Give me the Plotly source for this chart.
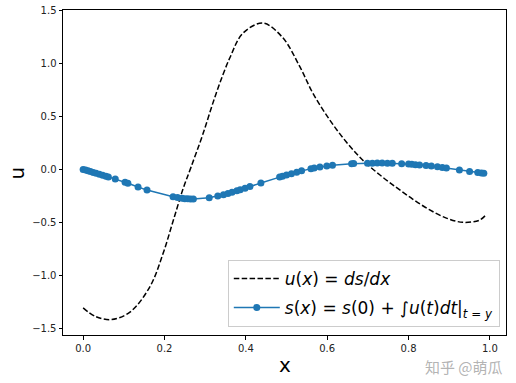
import plotly.graph_objects as go

# dashed curve u(x) = ds/dx
u_x = [0.000, 0.030, 0.069, 0.115, 0.164, 0.196, 0.221, 0.245, 0.265, 0.294, 0.327,
       0.361, 0.393, 0.442, 0.490, 0.533, 0.565, 0.606, 0.647, 0.687, 0.729, 0.770,
       0.810, 0.851, 0.893, 0.933, 0.974, 0.990]
u_y = [-1.31, -1.39, -1.42, -1.35, -1.11, -0.80, -0.49, -0.19, 0.02, 0.33, 0.72,
       1.06, 1.29, 1.385, 1.25, 0.97, 0.72, 0.47, 0.26, 0.09, -0.05, -0.17,
       -0.28, -0.38, -0.46, -0.50, -0.48, -0.43]

# sampled points s(x)
s_x = [0.000, 0.006, 0.012, 0.018, 0.025, 0.032, 0.040, 0.048, 0.056, 0.062,
       0.079, 0.103, 0.110, 0.135, 0.157, 0.221, 0.232, 0.243, 0.250, 0.257,
       0.264, 0.271, 0.310, 0.331, 0.345, 0.356, 0.366, 0.378, 0.386, 0.398,
       0.410, 0.437, 0.483, 0.490, 0.500, 0.512, 0.525, 0.537, 0.560, 0.568,
       0.582, 0.599, 0.613, 0.660, 0.665, 0.699, 0.711, 0.723, 0.735, 0.748,
       0.760, 0.783, 0.800, 0.808, 0.817, 0.827, 0.843, 0.856, 0.871, 0.883,
       0.893, 0.925, 0.950, 0.970, 0.979, 0.985]
s_y = [0.000, -0.006, -0.013, -0.020, -0.028, -0.036, -0.045, -0.054, -0.063, -0.070,
       -0.090, -0.120, -0.130, -0.165, -0.195, -0.258, -0.266, -0.272, -0.276, -0.278,
       -0.280, -0.280, -0.268, -0.252, -0.240, -0.228, -0.216, -0.202, -0.192, -0.177,
       -0.162, -0.128, -0.072, -0.063, -0.052, -0.040, -0.026, -0.012, 0.008, 0.014,
       0.024, 0.034, 0.040, 0.055, 0.056, 0.060, 0.060, 0.061, 0.061, 0.060,
       0.059, 0.055, 0.051, 0.049, 0.046, 0.043, 0.038, 0.032, 0.025, 0.019,
       0.014, -0.004, -0.018, -0.028, -0.033, -0.036]

x_ticks = [0.0, 0.2, 0.4, 0.6, 0.8, 1.0]
y_ticks = [-1.5, -1.0, -0.5, 0.0, 0.5, 1.0, 1.5]

fig = go.Figure()
fig.add_trace(go.Scatter(
    x=u_x, y=u_y, mode="lines", line_shape="spline",
    line=dict(color="black", width=1.5, dash="5.5px,2.4px"),
    legendgroup="u",
    name="<i>u</i>(<i>x</i>) = <i>ds</i>/<i>dx</i>"))
fig.add_trace(go.Scatter(
    x=s_x, y=s_y, mode="lines+markers",
    line=dict(color="#1f77b4", width=1.5),
    marker=dict(color="#1f77b4", size=7),
    legendgroup="s",
    name="<i>s</i>(<i>x</i>) = <i>s</i>(0) + ∫<i>u</i>(<i>t</i>)<i>dt</i>|<sub><i>t</i> = <i>y</i></sub>"))

axis_common = dict(showline=True, linecolor="black", linewidth=1, mirror=True,
                   ticks="outside", ticklen=3.5, tickwidth=0.8, tickcolor="black",
                   showgrid=False, zeroline=False, automargin=False,
                   tickfont=dict(family="DejaVu Sans", size=10, color="#222"))

fig.update_layout(
    width=516, height=383,
    margin=dict(l=63, r=10, t=10, b=48),
    plot_bgcolor="white", paper_bgcolor="white",
    xaxis=dict(range=[-0.0495, 1.0395], tickvals=x_ticks,
               ticktext=[f"{v:.1f}" for v in x_ticks], **axis_common),
    yaxis=dict(range=[-1.566, 1.509], tickvals=y_ticks,
               ticktext=[f"{v:.1f}".replace("-", "−") for v in y_ticks], **axis_common),
    legend=dict(x=0.986, y=0.025, xanchor="right", yanchor="bottom",
                bgcolor="rgba(255,255,255,0.8)", bordercolor="#cccccc", borderwidth=1,
                font=dict(family="DejaVu Sans", size=17, color="black"),
                itemwidth=46,
                traceorder="grouped", tracegroupgap=4),
    showlegend=True,
)

# axis titles
fig.add_annotation(text="x", xref="paper", yref="paper", x=0.5, y=-0.092,
                   xanchor="center", yanchor="middle", showarrow=False,
                   font=dict(family="DejaVu Sans", size=20, color="black"))
fig.add_annotation(text="u", xref="paper", yref="paper", x=-0.104, y=0.5,
                   xanchor="center", yanchor="middle", showarrow=False, textangle=-90,
                   font=dict(family="DejaVu Sans", size=20, color="black"))

fig.add_annotation(text="知乎 @萌瓜", xref="paper", yref="paper", x=0.998, y=-0.097,
                   xanchor="right", yanchor="middle", showarrow=False,
                   font=dict(family="Noto Sans CJK SC", size=15, color="rgba(160,160,160,0.8)"))

fig.write_html("out.html", config={"displayModeBar": False},
               post_script="document.body.style.margin='0';document.body.style.padding='0';")
